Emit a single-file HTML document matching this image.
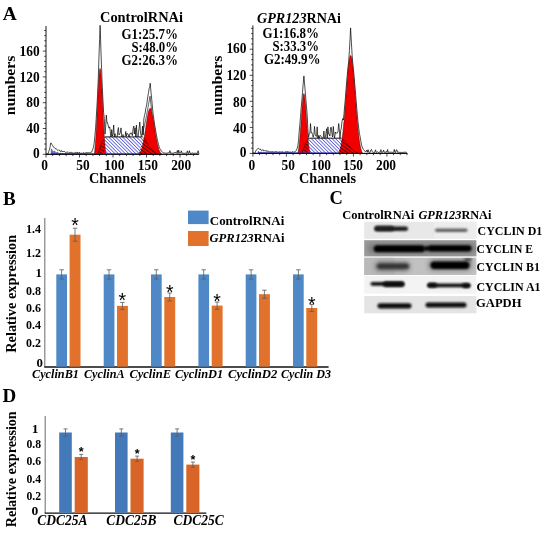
<!DOCTYPE html>
<html lang="en"><head><meta charset="utf-8"><title>Figure</title>
<style>
html,body{margin:0;padding:0;background:#fff;}
body{width:550px;height:534px;overflow:hidden;}
svg{display:block;font-family:'Liberation Serif', 'DejaVu Serif', serif;fill:#000;}
</style></head><body>
<svg width="550" height="534" viewBox="0 0 550 534">
<rect width="550" height="534" fill="#fff"/>
<defs>
<pattern id="h1" width="2.45" height="2.45" patternUnits="userSpaceOnUse" patternTransform="rotate(45)"><rect width="2.45" height="2.45" fill="#fff"/><rect width="2.45" height="0.85" fill="#5a5ce0"/></pattern>
<pattern id="h1k" width="2.9" height="2.9" patternUnits="userSpaceOnUse" patternTransform="rotate(36)"><rect width="2.9" height="0.75" fill="#300"/></pattern>
<pattern id="h2" width="2.45" height="2.45" patternUnits="userSpaceOnUse" patternTransform="rotate(45)"><rect width="2.45" height="2.45" fill="#fff"/><rect width="2.45" height="0.85" fill="#5a5ce0"/></pattern>
<pattern id="h2k" width="2.9" height="2.9" patternUnits="userSpaceOnUse" patternTransform="rotate(36)"><rect width="2.9" height="0.75" fill="#300"/></pattern>
<filter id="b1" x="-20%" y="-80%" width="140%" height="260%"><feGaussianBlur stdDeviation="1.1"/></filter>
<filter id="b2" x="-20%" y="-80%" width="140%" height="260%"><feGaussianBlur stdDeviation="1.6"/></filter>
<filter id="b3" x="-20%" y="-100%" width="140%" height="300%"><feGaussianBlur stdDeviation="2.4"/></filter>
</defs>
<text x="2.7" y="20.0" font-size="19.4" text-anchor="start" font-weight="bold" font-style="normal">A</text>
<polygon points="46.0,154.3 46.0,154.0 46.7,154.0 47.3,154.0 48.0,154.0 48.7,151.4 49.4,149.8 50.0,147.3 50.7,143.0 51.4,143.3 52.0,144.7 52.7,145.6 53.4,146.9 54.0,147.3 54.7,148.2 55.4,148.7 56.0,148.3 56.7,149.5 57.4,150.2 58.1,150.4 58.7,149.8 59.4,150.0 60.1,151.3 60.7,151.4 61.4,150.5 62.1,152.0 62.8,151.3 63.4,152.0 64.1,151.1 64.8,151.9 65.4,152.4 66.1,152.3 66.8,152.2 67.4,152.0 68.1,152.6 68.8,151.9 69.5,152.7 70.1,152.5 70.8,152.4 71.5,152.3 72.1,153.0 72.8,152.8 73.5,153.1 74.1,152.9 74.8,152.9 75.5,152.4 76.2,152.3 76.8,153.2 77.5,152.1 78.2,153.2 78.8,153.1 79.5,152.3 80.2,153.3 80.8,153.3 81.5,153.2 82.2,153.3 82.8,153.2 83.5,152.5 84.2,153.1 84.9,153.3 85.5,152.7 86.2,153.2 86.9,152.3 87.5,153.3 88.2,152.4 88.9,153.1 89.5,152.8 90.2,152.5 90.9,152.3 91.6,152.2 92.2,150.7 92.9,148.9 93.6,146.9 94.2,142.8 94.9,136.0 95.6,127.9 96.2,118.6 96.9,106.9 97.6,94.5 98.3,78.0 98.9,58.8 99.6,39.6 100.1,25.3 100.3,30.2 100.9,49.4 101.6,68.6 102.3,87.8 103.0,100.9 103.6,112.3 104.3,118.6 105.0,134.1 105.6,128.0 106.3,115.1 107.0,123.1 107.6,122.8 108.3,126.0 109.0,128.2 109.7,126.8 110.3,131.4 111.0,141.2 111.7,129.6 112.3,136.1 113.0,133.8 113.7,125.0 114.3,137.2 115.0,133.6 115.7,135.6 116.3,138.3 117.0,140.7 117.7,131.2 118.4,127.5 119.0,135.0 119.7,133.9 120.4,132.5 121.0,127.9 121.7,136.8 122.4,140.7 123.0,134.5 123.7,141.8 124.4,142.2 125.1,137.7 125.7,131.4 126.4,136.1 127.1,133.3 127.7,134.3 128.4,134.6 129.1,139.5 129.8,133.6 130.4,133.8 131.1,132.7 131.8,134.0 132.4,135.7 133.1,128.8 133.8,126.0 134.4,134.0 135.1,127.8 135.8,137.7 136.4,125.1 137.1,136.3 137.8,143.7 138.5,132.2 139.1,128.3 139.8,122.0 140.5,133.0 141.1,135.4 141.8,136.6 142.5,126.1 143.2,135.1 143.8,119.2 144.5,115.4 145.2,113.0 145.8,108.2 146.5,106.1 147.2,101.1 147.8,96.7 148.5,92.6 149.2,88.3 149.8,87.1 150.2,83.2 150.5,87.1 151.2,94.1 151.9,101.0 152.5,108.0 153.2,114.9 153.9,119.4 154.5,124.1 155.2,127.9 155.9,132.1 156.6,135.9 157.2,139.0 157.9,142.1 158.6,144.6 159.2,147.1 159.9,148.8 160.6,149.5 161.2,151.0 161.9,151.7 162.6,152.2 163.2,152.6 163.9,152.8 164.6,153.0 165.3,153.1 165.9,153.2 166.6,153.2 167.3,152.9 167.9,153.3 168.6,152.5 169.3,152.8 169.9,150.6 170.6,153.3 171.3,153.0 172.0,153.3 172.6,153.2 173.3,153.0 174.0,153.2 174.6,152.5 175.3,152.5 176.0,152.6 176.7,153.3 177.3,150.5 178.0,153.3 178.7,150.1 179.3,153.1 180.0,152.9 180.7,152.9 181.3,150.8 182.0,153.2 182.7,153.3 183.3,153.2 184.0,153.3 184.7,153.3 185.4,153.1 186.0,153.3 186.7,153.3 187.4,150.9 188.0,153.3 188.7,153.3 189.4,150.7 190.1,153.3 190.7,153.3 191.4,153.3 192.1,153.3 192.7,152.8 193.4,153.3 194.1,153.3 194.7,153.2 195.4,153.3 196.1,153.3 196.8,153.3 197.4,153.3 198.1,150.7 198.8,153.3 198.8,154.3" fill="#fff" stroke="#000" stroke-width="0.7" stroke-linejoin="round"/>
<polyline points="142.0,134.9 142.5,133.5 143.0,131.7 143.5,129.7 144.0,127.6 144.5,125.3 145.0,123.0 145.5,120.6 146.0,118.1 146.5,115.5 147.0,112.9 147.5,110.2 148.0,107.5 148.5,104.8 149.0,102.0 149.5,99.1 150.0,96.2 151.7,110.6" fill="none" stroke="#000" stroke-width="0.6"/>
<polygon points="102.4,154.3 103.8,148.2 104.6,142.1 104.6,136.9 142.0,136.9 143.0,138.1 141.8,144.7 138.8,154.3" fill="url(#h1)" stroke="none"/>
<polygon points="94.3,154.3 94.5,152.5 94.8,150.4 95.0,147.9 95.3,145.0 95.5,141.8 95.8,138.2 96.0,134.2 96.3,129.9 96.5,125.2 96.8,120.2 97.0,115.0 97.3,109.6 97.5,104.2 97.8,98.7 98.0,93.4 98.3,88.4 98.5,83.7 98.8,79.4 99.0,75.7 99.3,72.7 99.5,70.5 99.8,69.0 100.0,68.4 100.3,68.7 100.5,69.8 100.8,71.7 101.0,74.4 101.3,77.9 101.5,81.9 101.8,86.4 102.0,91.4 102.3,96.6 102.5,102.0 102.8,107.4 103.0,112.9 103.3,118.2 103.5,123.2 103.8,128.0 104.0,132.5 104.3,136.7 104.5,140.4 104.8,143.8 105.0,146.8 105.3,149.4 105.5,151.7 105.8,153.6" fill="#f20000" stroke="#2a0000" stroke-width="0.45"/>
<polygon points="138.2,154.3 138.4,154.1 138.7,153.9 138.9,153.7 139.2,153.5 139.4,153.2 139.7,152.9 139.9,152.5 140.2,152.1 140.4,151.7 140.7,151.2 140.9,150.6 141.2,150.0 141.4,149.3 141.7,148.6 141.9,147.8 142.2,146.9 142.4,146.0 142.7,145.0 142.9,143.9 143.2,142.8 143.4,141.6 143.7,140.3 143.9,138.9 144.2,137.5 144.4,136.1 144.7,134.5 144.9,133.0 145.2,131.4 145.4,129.7 145.7,128.1 145.9,126.4 146.2,124.8 146.4,123.2 146.7,121.5 146.9,120.0 147.2,118.4 147.4,117.0 147.7,115.6 147.9,114.3 148.2,113.1 148.4,112.0 148.7,111.1 148.9,110.2 149.2,109.6 149.4,109.0 149.7,108.6 149.9,108.4 150.2,108.3 150.4,108.4 150.7,108.6 150.9,109.0 151.2,109.6 151.4,110.2 151.7,111.1 151.9,112.0 152.2,113.1 152.4,114.3 152.7,115.6 152.9,117.0 153.2,118.4 153.4,120.0 153.7,121.5 153.9,123.2 154.2,124.8 154.4,126.4 154.7,128.1 154.9,129.7 155.2,131.4 155.4,133.0 155.7,134.5 155.9,136.1 156.2,137.5 156.4,138.9 156.7,140.3 156.9,141.6 157.2,142.8 157.4,143.9 157.7,145.0 157.9,146.0 158.2,146.9 158.4,147.8 158.7,148.6 158.9,149.3 159.2,150.0 159.4,150.6 159.7,151.2 159.9,151.7 160.2,152.1 160.4,152.5 160.7,152.9 160.9,153.2 161.2,153.5 161.4,153.7 161.7,153.9 161.9,154.1 162.2,154.3" fill="#f20000" stroke="#2a0000" stroke-width="0.45"/>
<clipPath id="h1c1"><polygon points="97.7,154.3 100.3,147.0 102.3,140.4 104.9,136.9 104.8,145.6 103.4,154.3"/></clipPath>
<rect x="97.1" y="134.9" width="16.4" height="19.4" fill="url(#h1k)" clip-path="url(#h1c1)"/>
<polyline points="97.7,154.3 100.3,147.0 102.3,140.4" fill="none" stroke="#2a0000" stroke-width="0.5"/>
<clipPath id="h1c2"><polygon points="138.3,154.3 141.5,144.7 142.7,137.8 144.5,138.6 148.0,144.7 152.8,150.8 157.1,154.3"/></clipPath>
<rect x="136.8" y="134.9" width="24.0" height="19.4" fill="url(#h1k)" clip-path="url(#h1c2)"/>
<polyline points="142.7,137.8 144.5,138.6 148.0,144.7 152.8,150.8 157.1,154.3" fill="none" stroke="#2a0000" stroke-width="0.5"/>
<line x1="104.6" y1="136.9" x2="142.5" y2="136.9" stroke="#000" stroke-width="0.9"/>
<polygon points="51.0,154.3 51.3,148.8 52.0,149.4 52.6,151.1 53.3,151.8 54.0,151.2 54.7,151.0 55.3,151.9 56.0,152.7 56.7,152.6 57.3,152.3 58.0,152.5 58.7,153.2 59.3,153.4 60.0,153.1 60.7,153.1 61.4,153.4 62.0,153.6 62.7,153.6 63.4,153.5 64.0,153.6 64.7,153.6 65.4,153.6 66.0,153.6 66.7,153.6 67.4,153.6 68.1,153.6 68.7,153.6 69.4,153.6 70.1,153.6 70.7,153.6 71.4,153.6 72.1,153.6 72.7,153.6 73.4,153.6 74.1,153.6 74.8,153.6 75.4,153.6 76.1,153.6 76.8,153.6 77.4,153.6 78.1,153.6 78.8,153.6 79.4,153.6 80.1,153.6 80.8,153.6 81.5,153.6 82.1,153.6 82.8,153.6 83.5,153.6 84.1,153.6 84.8,153.6 85.5,153.6 85.5,154.3" fill="#6466ee" stroke="#223" stroke-width="0.35"/>
<line x1="51.0" y1="153.8" x2="138.8" y2="153.8" stroke="#3838c8" stroke-width="0.9"/>
<path d="M46.0,26.0V154.3H199.0" fill="none" stroke="#000" stroke-width="0.9"/>
<path d="M42.8,154.3H46.0M44.2,149.1H46.0M44.2,144.0H46.0M44.2,138.8H46.0M44.2,133.7H46.0M42.8,128.5H46.0M44.2,123.3H46.0M44.2,118.2H46.0M44.2,113.0H46.0M44.2,107.9H46.0M42.8,102.7H46.0M44.2,97.5H46.0M44.2,92.4H46.0M44.2,87.2H46.0M44.2,82.1H46.0M42.8,76.9H46.0M44.2,71.7H46.0M44.2,66.6H46.0M44.2,61.4H46.0M44.2,56.3H46.0M42.8,51.1H46.0M44.2,45.9H46.0M44.2,40.8H46.0M44.2,35.6H46.0M44.2,30.5H46.0M46.0,154.3v3.2M52.7,154.3v1.8M59.4,154.3v1.8M66.1,154.3v1.8M72.8,154.3v1.8M79.5,154.3v3.2M86.2,154.3v1.8M92.9,154.3v1.8M99.6,154.3v1.8M106.3,154.3v1.8M113.0,154.3v3.2M119.7,154.3v1.8M126.4,154.3v1.8M133.1,154.3v1.8M139.8,154.3v1.8M146.5,154.3v3.2M153.2,154.3v1.8M159.9,154.3v1.8M166.6,154.3v1.8M173.3,154.3v1.8M180.0,154.3v3.2M186.7,154.3v1.8M193.4,154.3v1.8" fill="none" stroke="#000" stroke-width="0.7"/>
<text x="39.6" y="56.0" font-size="15.5" text-anchor="end" font-weight="bold" font-style="normal" textLength="20.1" lengthAdjust="spacingAndGlyphs">160</text>
<text x="39.6" y="81.7" font-size="15.5" text-anchor="end" font-weight="bold" font-style="normal" textLength="20.1" lengthAdjust="spacingAndGlyphs">120</text>
<text x="39.6" y="107.2" font-size="15.5" text-anchor="end" font-weight="bold" font-style="normal" textLength="13.4" lengthAdjust="spacingAndGlyphs">80</text>
<text x="39.6" y="132.9" font-size="15.5" text-anchor="end" font-weight="bold" font-style="normal" textLength="13.4" lengthAdjust="spacingAndGlyphs">40</text>
<text x="39.6" y="158.2" font-size="15.5" text-anchor="end" font-weight="bold" font-style="normal" textLength="6.7" lengthAdjust="spacingAndGlyphs">0</text>
<text x="44.7" y="169.9" font-size="15.5" text-anchor="middle" font-weight="bold" font-style="normal" textLength="6.7" lengthAdjust="spacingAndGlyphs">0</text>
<text x="83.0" y="169.9" font-size="15.5" text-anchor="middle" font-weight="bold" font-style="normal" textLength="13.4" lengthAdjust="spacingAndGlyphs">50</text>
<text x="114.4" y="169.9" font-size="15.5" text-anchor="middle" font-weight="bold" font-style="normal" textLength="20.1" lengthAdjust="spacingAndGlyphs">100</text>
<text x="147.8" y="169.9" font-size="15.5" text-anchor="middle" font-weight="bold" font-style="normal" textLength="20.1" lengthAdjust="spacingAndGlyphs">150</text>
<text x="181.2" y="169.9" font-size="15.5" text-anchor="middle" font-weight="bold" font-style="normal" textLength="20.1" lengthAdjust="spacingAndGlyphs">200</text>
<text x="89.0" y="182.5" font-size="14" text-anchor="start" font-weight="bold" font-style="normal" textLength="57.0" lengthAdjust="spacingAndGlyphs">Channels</text>
<text transform="translate(15.2,85.5) rotate(-90)" font-size="14.5" text-anchor="middle" font-weight="bold" textLength="59.5" lengthAdjust="spacingAndGlyphs">numbers</text>
<text x="100.0" y="22.0" font-size="14" text-anchor="start" font-weight="bold" font-style="normal" textLength="83.0" lengthAdjust="spacingAndGlyphs">ControlRNAi</text>
<text x="178.0" y="38.5" font-size="15.5" text-anchor="end" font-weight="bold" font-style="normal" textLength="56.5" lengthAdjust="spacingAndGlyphs">G1:25.7%</text>
<text x="178.0" y="51.8" font-size="15.5" text-anchor="end" font-weight="bold" font-style="normal" textLength="46.5" lengthAdjust="spacingAndGlyphs">S:48.0%</text>
<text x="178.0" y="64.9" font-size="15.5" text-anchor="end" font-weight="bold" font-style="normal" textLength="56.5" lengthAdjust="spacingAndGlyphs">G2:26.3%</text>
<polygon points="252.9,153.4 252.9,153.1 253.6,153.1 254.2,153.1 254.9,153.1 255.6,151.2 256.2,150.2 256.9,149.7 257.6,148.7 258.3,148.3 258.9,148.5 259.6,149.4 260.3,149.0 260.9,150.1 261.6,150.4 262.3,150.3 262.9,149.6 263.6,151.0 264.3,150.6 265.0,151.2 265.6,150.7 266.3,150.4 267.0,151.7 267.6,150.9 268.3,151.4 269.0,151.3 269.6,151.8 270.3,151.8 271.0,151.4 271.7,151.9 272.3,151.6 273.0,151.7 273.7,152.0 274.3,152.0 275.0,152.0 275.7,151.4 276.4,151.6 277.0,152.0 277.7,152.1 278.4,152.0 279.0,152.3 279.7,151.8 280.4,151.7 281.0,152.3 281.7,151.8 282.4,152.0 283.1,151.7 283.7,152.3 284.4,152.4 285.1,151.6 285.7,151.8 286.4,152.5 287.1,151.2 287.7,152.4 288.4,151.9 289.1,152.1 289.8,152.2 290.4,152.3 291.1,151.7 291.8,152.4 292.4,151.9 293.1,151.5 293.8,152.3 294.4,152.0 295.1,151.8 295.8,151.1 296.4,150.1 297.1,148.6 297.8,145.9 298.5,140.8 299.1,132.8 299.8,124.8 300.5,116.8 301.1,108.8 301.8,100.8 302.5,92.8 303.1,84.8 303.8,76.9 303.9,75.9 304.5,82.9 305.2,90.9 305.8,98.9 306.5,106.9 307.2,114.9 307.8,128.3 308.5,137.2 309.2,134.3 309.9,133.0 310.5,123.6 311.2,132.8 311.9,132.5 312.5,134.6 313.2,137.3 313.9,134.3 314.5,126.4 315.2,134.4 315.9,136.3 316.6,136.3 317.2,126.8 317.9,143.6 318.6,135.4 319.2,138.4 319.9,135.5 320.6,135.6 321.2,136.4 321.9,137.3 322.6,139.3 323.2,138.3 323.9,131.0 324.6,140.3 325.3,137.3 325.9,133.8 326.6,128.7 327.3,138.8 327.9,126.9 328.6,134.1 329.3,134.3 329.9,136.1 330.6,127.6 331.3,127.2 332.0,134.3 332.6,137.0 333.3,126.5 334.0,135.5 334.6,137.9 335.3,132.1 336.0,133.5 336.6,132.8 337.3,133.1 338.0,131.7 338.7,123.5 339.3,129.7 340.0,138.2 340.7,130.6 341.3,128.1 342.0,121.5 342.7,118.6 343.4,120.0 344.0,113.6 344.7,105.5 345.4,98.0 346.0,89.7 346.7,81.4 347.4,74.0 348.0,67.3 348.7,61.6 349.4,50.4 350.1,38.1 350.6,27.9 350.7,30.1 351.4,42.5 352.1,54.8 352.7,62.3 353.4,69.4 354.1,76.4 354.7,84.0 355.4,91.5 356.1,100.3 356.8,108.8 357.4,115.7 358.1,122.7 358.8,128.6 359.4,133.3 360.1,136.6 360.8,140.9 361.4,144.2 362.1,146.7 362.8,148.3 363.4,149.6 364.1,150.5 364.8,151.1 365.5,151.5 366.1,151.7 366.8,150.0 367.5,152.2 368.1,149.7 368.8,152.3 369.5,152.4 370.1,152.4 370.8,150.0 371.5,149.4 372.2,151.6 372.8,152.2 373.5,152.4 374.2,152.4 374.8,152.4 375.5,149.8 376.2,152.4 376.9,152.2 377.5,151.7 378.2,152.4 378.9,152.4 379.5,152.2 380.2,152.4 380.9,149.6 381.5,152.4 382.2,152.2 382.9,152.2 383.6,150.1 384.2,152.2 384.9,152.3 385.6,152.4 386.2,151.4 386.9,152.4 387.6,149.5 388.2,152.4 388.9,152.0 389.6,152.2 390.2,152.1 390.9,152.4 391.6,152.2 392.3,152.4 392.9,152.3 393.6,152.4 394.3,149.4 394.9,152.4 395.6,152.4 396.3,149.8 396.9,150.0 397.6,152.4 398.3,152.1 399.0,152.4 399.6,152.4 400.3,152.4 401.0,152.4 401.6,152.4 402.3,152.4 403.0,152.3 403.6,152.4 404.3,152.2 405.0,152.1 405.7,152.2 406.3,152.4 406.3,153.4" fill="#fff" stroke="#000" stroke-width="0.7" stroke-linejoin="round"/>
<polygon points="305.8,153.4 307.2,148.1 308.0,142.8 308.0,138.2 341.0,138.2 342.0,139.4 340.8,145.0 338.8,153.4" fill="url(#h2)" stroke="none"/>
<polygon points="297.7,153.4 297.9,152.5 298.2,151.4 298.4,150.0 298.7,148.5 298.9,146.7 299.2,144.7 299.4,142.4 299.7,139.9 299.9,137.1 300.2,134.0 300.4,130.8 300.7,127.3 300.9,123.7 301.2,120.1 301.4,116.4 301.7,112.7 301.9,109.2 302.2,105.8 302.4,102.7 302.7,100.0 302.9,97.7 303.2,95.9 303.4,94.5 303.7,93.8 303.9,93.6 304.2,94.0 304.4,95.0 304.7,96.5 304.9,98.6 305.2,101.1 305.4,103.9 305.7,107.1 305.9,110.6 306.2,114.2 306.4,117.8 306.7,121.5 306.9,125.2 307.2,128.7 307.4,132.1 307.7,135.3 307.9,138.2 308.2,140.9 308.4,143.4 308.7,145.5 308.9,147.5 309.2,149.1 309.4,150.6 309.7,151.8 309.9,152.9" fill="#f20000" stroke="#2a0000" stroke-width="0.45"/>
<polygon points="338.7,153.4 339.0,152.9 339.2,152.3 339.5,151.6 339.7,150.8 340.0,150.0 340.2,149.1 340.5,148.1 340.7,147.0 341.0,145.7 341.2,144.4 341.5,142.9 341.7,141.3 342.0,139.6 342.2,137.8 342.5,135.8 342.7,133.7 343.0,131.5 343.2,129.1 343.5,126.6 343.7,124.0 344.0,121.3 344.2,118.4 344.5,115.4 344.7,112.4 345.0,109.2 345.2,106.0 345.5,102.7 345.7,99.4 346.0,96.0 346.2,92.7 346.5,89.4 346.7,86.1 347.0,82.8 347.2,79.7 347.5,76.6 347.7,73.7 348.0,70.9 348.2,68.3 348.5,65.9 348.7,63.7 349.0,61.7 349.2,60.0 349.5,58.5 349.7,57.3 350.0,56.4 350.2,55.8 350.5,55.5 350.7,55.4 351.0,55.7 351.2,56.3 351.5,57.1 351.7,58.3 352.0,59.7 352.2,61.4 352.5,63.3 352.7,65.5 353.0,67.8 353.2,70.4 353.5,73.1 353.7,76.0 354.0,79.1 354.2,82.2 354.5,85.4 354.7,88.7 355.0,92.0 355.2,95.4 355.5,98.7 355.7,102.0 356.0,105.3 356.2,108.6 356.5,111.7 356.7,114.8 357.0,117.8 357.2,120.7 357.5,123.5 357.7,126.1 358.0,128.6 358.2,131.0 358.5,133.3 358.7,135.4 359.0,137.4 359.2,139.3 359.5,141.0 359.7,142.6 360.0,144.1 360.2,145.5 360.5,146.7 360.7,147.9 361.0,148.9 361.2,149.8 361.5,150.7 361.7,151.5 362.0,152.1 362.2,152.8 362.5,153.3" fill="#f20000" stroke="#2a0000" stroke-width="0.45"/>
<clipPath id="h2c1"><polygon points="301.5,153.4 304.1,147.0 306.1,141.2 308.3,138.2 308.2,145.8 306.8,153.4"/></clipPath>
<rect x="300.9" y="136.2" width="16.4" height="17.2" fill="url(#h2k)" clip-path="url(#h2c1)"/>
<polyline points="301.5,153.4 304.1,147.0 306.1,141.2" fill="none" stroke="#2a0000" stroke-width="0.5"/>
<clipPath id="h2c2"><polygon points="338.3,153.4 340.5,145.0 341.7,139.0 343.5,139.7 348.3,145.0 353.4,150.4 358.0,153.4"/></clipPath>
<rect x="336.8" y="136.2" width="25.0" height="17.2" fill="url(#h2k)" clip-path="url(#h2c2)"/>
<polyline points="341.7,139.0 343.5,139.7 348.3,145.0 353.4,150.4 358.0,153.4" fill="none" stroke="#2a0000" stroke-width="0.5"/>
<line x1="308.0" y1="138.2" x2="341.5" y2="138.2" stroke="#000" stroke-width="0.9"/>
<polygon points="257.9,153.4 258.2,151.2 258.9,151.8 259.5,152.3 260.2,152.2 260.9,152.0 261.6,152.2 262.2,152.7 262.9,152.7 263.6,152.6 264.2,152.6 264.9,152.7 265.6,152.7 266.2,152.7 266.9,152.7 267.6,152.7 268.3,152.7 268.9,152.7 269.6,152.7 270.3,152.7 270.9,152.7 271.6,152.7 272.3,152.7 272.9,152.7 273.6,152.7 274.3,152.7 275.0,152.7 275.6,152.7 276.3,152.7 277.0,152.7 277.6,152.7 278.3,152.7 279.0,152.7 279.6,152.7 280.3,152.7 281.0,152.7 281.7,152.7 282.3,152.7 283.0,152.7 283.7,152.7 284.3,152.7 285.0,152.7 285.7,152.7 286.3,152.7 287.0,152.7 287.7,152.7 288.4,152.7 289.0,152.7 289.7,152.7 290.4,152.7 291.0,152.7 291.7,152.7 292.4,152.7 292.4,153.4" fill="#6466ee" stroke="#223" stroke-width="0.35"/>
<line x1="257.9" y1="152.9" x2="338.8" y2="152.9" stroke="#3838c8" stroke-width="0.9"/>
<path d="M252.9,25.5V153.4H407.5" fill="none" stroke="#000" stroke-width="0.9"/>
<path d="M249.7,153.4H252.9M251.1,148.2H252.9M251.1,143.0H252.9M251.1,137.8H252.9M251.1,132.6H252.9M249.7,127.4H252.9M251.1,122.2H252.9M251.1,116.9H252.9M251.1,111.7H252.9M251.1,106.5H252.9M249.7,101.3H252.9M251.1,96.1H252.9M251.1,90.9H252.9M251.1,85.7H252.9M251.1,80.5H252.9M249.7,75.3H252.9M251.1,70.1H252.9M251.1,64.9H252.9M251.1,59.7H252.9M251.1,54.4H252.9M249.7,49.2H252.9M251.1,44.0H252.9M251.1,38.8H252.9M251.1,33.6H252.9M251.1,28.4H252.9M252.9,153.4v3.2M259.6,153.4v1.8M266.3,153.4v1.8M273.0,153.4v1.8M279.7,153.4v1.8M286.4,153.4v3.2M293.1,153.4v1.8M299.8,153.4v1.8M306.5,153.4v1.8M313.2,153.4v1.8M319.9,153.4v3.2M326.6,153.4v1.8M333.3,153.4v1.8M340.0,153.4v1.8M346.7,153.4v1.8M353.4,153.4v3.2M360.1,153.4v1.8M366.8,153.4v1.8M373.5,153.4v1.8M380.2,153.4v1.8M386.9,153.4v3.2M393.6,153.4v1.8M400.3,153.4v1.8M407.0,153.4v1.8" fill="none" stroke="#000" stroke-width="0.7"/>
<text x="246.5" y="53.3" font-size="15.5" text-anchor="end" font-weight="bold" font-style="normal" textLength="20.1" lengthAdjust="spacingAndGlyphs">160</text>
<text x="246.5" y="80.0" font-size="15.5" text-anchor="end" font-weight="bold" font-style="normal" textLength="20.1" lengthAdjust="spacingAndGlyphs">120</text>
<text x="246.5" y="106.5" font-size="15.5" text-anchor="end" font-weight="bold" font-style="normal" textLength="13.4" lengthAdjust="spacingAndGlyphs">80</text>
<text x="246.5" y="132.7" font-size="15.5" text-anchor="end" font-weight="bold" font-style="normal" textLength="13.4" lengthAdjust="spacingAndGlyphs">40</text>
<text x="246.5" y="157.3" font-size="15.5" text-anchor="end" font-weight="bold" font-style="normal" textLength="6.7" lengthAdjust="spacingAndGlyphs">0</text>
<text x="251.8" y="169.9" font-size="15.5" text-anchor="middle" font-weight="bold" font-style="normal" textLength="6.7" lengthAdjust="spacingAndGlyphs">0</text>
<text x="288.3" y="169.9" font-size="15.5" text-anchor="middle" font-weight="bold" font-style="normal" textLength="13.4" lengthAdjust="spacingAndGlyphs">50</text>
<text x="321.0" y="169.9" font-size="15.5" text-anchor="middle" font-weight="bold" font-style="normal" textLength="20.1" lengthAdjust="spacingAndGlyphs">100</text>
<text x="353.0" y="169.9" font-size="15.5" text-anchor="middle" font-weight="bold" font-style="normal" textLength="20.1" lengthAdjust="spacingAndGlyphs">150</text>
<text x="386.0" y="169.9" font-size="15.5" text-anchor="middle" font-weight="bold" font-style="normal" textLength="20.1" lengthAdjust="spacingAndGlyphs">200</text>
<text x="299.0" y="182.5" font-size="14" text-anchor="start" font-weight="bold" font-style="normal" textLength="57.0" lengthAdjust="spacingAndGlyphs">Channels</text>
<text transform="translate(222,85.5) rotate(-90)" font-size="14.5" text-anchor="middle" font-weight="bold" textLength="59.5" lengthAdjust="spacingAndGlyphs">numbers</text>
<text x="257" y="22.6" font-size="14" font-weight="bold" textLength="84" lengthAdjust="spacingAndGlyphs"><tspan font-style="italic">GPR123</tspan>RNAi</text>
<text x="262.5" y="38.0" font-size="15.5" text-anchor="start" font-weight="bold" font-style="normal" textLength="56.5" lengthAdjust="spacingAndGlyphs">G1:16.8%</text>
<text x="272.5" y="51.2" font-size="15.5" text-anchor="start" font-weight="bold" font-style="normal" textLength="46.5" lengthAdjust="spacingAndGlyphs">S:33.3%</text>
<text x="264.0" y="64.3" font-size="15.5" text-anchor="start" font-weight="bold" font-style="normal" textLength="56.5" lengthAdjust="spacingAndGlyphs">G2:49.9%</text>
<text x="3.0" y="205.0" font-size="19" text-anchor="start" font-weight="bold" font-style="normal">B</text>
<path d="M44.8,218V367" fill="none" stroke="#777" stroke-width="1.1"/>
<path d="M44.3,367H328.6" fill="none" stroke="#111" stroke-width="1.3"/>
<rect x="56.3" y="274.4" width="10.7" height="92.2" fill="#4f88c7"/>
<path d="M61.6,269.8V279.0M59.4,269.8h4.6M59.4,279.0h4.6" stroke="#5a5a5a" stroke-width="0.8" fill="none"/>
<rect x="69.6" y="234.7" width="10.9" height="131.9" fill="#e2712b"/>
<path d="M75.0,228.2V241.2M72.8,228.2h4.6M72.8,241.2h4.6" stroke="#5a5a5a" stroke-width="0.8" fill="none"/>
<text x="75.0" y="231.6" font-size="19.5" text-anchor="middle" font-family="'Liberation Sans', 'DejaVu Sans', sans-serif" font-weight="normal">*</text>
<rect x="103.7" y="274.4" width="10.7" height="92.2" fill="#4f88c7"/>
<path d="M109.0,269.8V279.0M106.7,269.8h4.6M106.7,279.0h4.6" stroke="#5a5a5a" stroke-width="0.8" fill="none"/>
<rect x="117.0" y="305.9" width="10.9" height="60.7" fill="#e2712b"/>
<path d="M122.4,302.4V309.4M120.1,302.4h4.6M120.1,309.4h4.6" stroke="#5a5a5a" stroke-width="0.8" fill="none"/>
<text x="122.4" y="306.7" font-size="19.5" text-anchor="middle" font-family="'Liberation Sans', 'DejaVu Sans', sans-serif" font-weight="normal">*</text>
<rect x="151.0" y="274.4" width="10.7" height="92.2" fill="#4f88c7"/>
<path d="M156.3,269.8V279.0M154.0,269.8h4.6M154.0,279.0h4.6" stroke="#5a5a5a" stroke-width="0.8" fill="none"/>
<rect x="164.3" y="297.0" width="10.9" height="69.6" fill="#e2712b"/>
<path d="M169.7,293.0V301.0M167.4,293.0h4.6M167.4,301.0h4.6" stroke="#5a5a5a" stroke-width="0.8" fill="none"/>
<text x="169.7" y="299.3" font-size="19.5" text-anchor="middle" font-family="'Liberation Sans', 'DejaVu Sans', sans-serif" font-weight="normal">*</text>
<rect x="198.4" y="274.4" width="10.7" height="92.2" fill="#4f88c7"/>
<path d="M203.7,269.8V279.0M201.4,269.8h4.6M201.4,279.0h4.6" stroke="#5a5a5a" stroke-width="0.8" fill="none"/>
<rect x="211.7" y="305.6" width="10.9" height="61.0" fill="#e2712b"/>
<path d="M217.1,302.0V309.2M214.8,302.0h4.6M214.8,309.2h4.6" stroke="#5a5a5a" stroke-width="0.8" fill="none"/>
<text x="217.1" y="307.8" font-size="19.5" text-anchor="middle" font-family="'Liberation Sans', 'DejaVu Sans', sans-serif" font-weight="normal">*</text>
<rect x="245.7" y="274.4" width="10.7" height="92.2" fill="#4f88c7"/>
<path d="M251.1,269.8V279.0M248.8,269.8h4.6M248.8,279.0h4.6" stroke="#5a5a5a" stroke-width="0.8" fill="none"/>
<rect x="259.0" y="294.2" width="10.9" height="72.4" fill="#e2712b"/>
<path d="M264.4,290.2V298.2M262.1,290.2h4.6M262.1,298.2h4.6" stroke="#5a5a5a" stroke-width="0.8" fill="none"/>
<rect x="293.0" y="274.4" width="10.7" height="92.2" fill="#4f88c7"/>
<path d="M298.4,269.8V279.0M296.1,269.8h4.6M296.1,279.0h4.6" stroke="#5a5a5a" stroke-width="0.8" fill="none"/>
<rect x="306.3" y="308.0" width="10.9" height="58.6" fill="#e2712b"/>
<path d="M311.8,304.5V311.5M309.5,304.5h4.6M309.5,311.5h4.6" stroke="#5a5a5a" stroke-width="0.8" fill="none"/>
<text x="311.8" y="310.5" font-size="19.5" text-anchor="middle" font-family="'Liberation Sans', 'DejaVu Sans', sans-serif" font-weight="normal">*</text>
<text x="41.0" y="232.8" font-size="12.8" text-anchor="end" font-weight="bold" font-style="normal" textLength="15.0" lengthAdjust="spacingAndGlyphs">1.4</text>
<text x="41.0" y="257.1" font-size="12.8" text-anchor="end" font-weight="bold" font-style="normal" textLength="15.0" lengthAdjust="spacingAndGlyphs">1.2</text>
<text x="42.0" y="277.3" font-size="12.8" text-anchor="end" font-weight="bold" font-style="normal">1</text>
<text x="41.0" y="294.5" font-size="12.8" text-anchor="end" font-weight="bold" font-style="normal" textLength="15.0" lengthAdjust="spacingAndGlyphs">0.8</text>
<text x="41.0" y="312.0" font-size="12.8" text-anchor="end" font-weight="bold" font-style="normal" textLength="15.0" lengthAdjust="spacingAndGlyphs">0.6</text>
<text x="41.0" y="328.9" font-size="12.8" text-anchor="end" font-weight="bold" font-style="normal" textLength="15.0" lengthAdjust="spacingAndGlyphs">0.4</text>
<text x="41.0" y="346.7" font-size="12.8" text-anchor="end" font-weight="bold" font-style="normal" textLength="15.0" lengthAdjust="spacingAndGlyphs">0.2</text>
<text x="43.0" y="366.8" font-size="12.8" text-anchor="end" font-weight="bold" font-style="normal">0</text>
<text transform="translate(15.8,293.8) rotate(-90)" font-size="15" text-anchor="middle" font-weight="bold" textLength="118" lengthAdjust="spacingAndGlyphs">Relative expression</text>
<text x="32.0" y="378.0" font-size="12" text-anchor="start" font-weight="bold" font-style="italic" textLength="47.0" lengthAdjust="spacingAndGlyphs">CyclinB1</text>
<text x="84.0" y="378.0" font-size="12" text-anchor="start" font-weight="bold" font-style="italic" textLength="40.6" lengthAdjust="spacingAndGlyphs">CyclinA</text>
<text x="129.4" y="378.0" font-size="12" text-anchor="start" font-weight="bold" font-style="italic" textLength="41.6" lengthAdjust="spacingAndGlyphs">CyclinE</text>
<text x="175.0" y="378.0" font-size="12" text-anchor="start" font-weight="bold" font-style="italic" textLength="48.2" lengthAdjust="spacingAndGlyphs">CyclinD1</text>
<text x="228.0" y="378.0" font-size="12" text-anchor="start" font-weight="bold" font-style="italic" textLength="49.4" lengthAdjust="spacingAndGlyphs">CyclinD2</text>
<text x="281.0" y="378.0" font-size="12" text-anchor="start" font-weight="bold" font-style="italic" textLength="50.0" lengthAdjust="spacingAndGlyphs">Cyclin D3</text>
<rect x="188" y="210.6" width="20.6" height="13.5" fill="#4f88c7"/>
<rect x="188" y="231" width="20.6" height="15" fill="#e2712b"/>
<text x="209.8" y="225.4" font-size="12.5" text-anchor="start" font-weight="bold" font-style="normal" textLength="74.5" lengthAdjust="spacingAndGlyphs">ControlRNAi</text>
<text x="209.5" y="242.2" font-size="12.5" font-weight="bold" textLength="75" lengthAdjust="spacingAndGlyphs"><tspan font-style="italic">GPR123</tspan>RNAi</text>
<text x="329.6" y="204.2" font-size="18.5" text-anchor="start" font-weight="bold" font-style="normal">C</text>
<text x="342.2" y="218.7" font-size="12.5" text-anchor="start" font-weight="bold" font-style="normal" textLength="72.0" lengthAdjust="spacingAndGlyphs">ControlRNAi</text>
<text x="418.4" y="218.7" font-size="12.5" font-weight="bold" textLength="73" lengthAdjust="spacingAndGlyphs"><tspan font-style="italic">GPR123</tspan>RNAi</text>
<clipPath id="cs0"><rect x="364.2" y="221.8" width="112.2" height="17.0"/></clipPath>
<rect x="364.2" y="221.8" width="112.2" height="17.0" fill="#e8e8e8"/>
<clipPath id="cs1"><rect x="364.2" y="240.2" width="112.2" height="16.2"/></clipPath>
<rect x="364.2" y="240.2" width="112.2" height="16.2" fill="#9b9b9b"/>
<clipPath id="cs2"><rect x="364.2" y="257.7" width="112.2" height="17.3"/></clipPath>
<rect x="364.2" y="257.7" width="112.2" height="17.3" fill="#c1c1c1"/>
<clipPath id="cs3"><rect x="364.2" y="276" width="112.2" height="17.6"/></clipPath>
<rect x="364.2" y="276" width="112.2" height="17.6" fill="#f3f3f3"/>
<clipPath id="cs4"><rect x="364.2" y="296" width="112.2" height="17.3"/></clipPath>
<rect x="364.2" y="296" width="112.2" height="17.3" fill="#e4e4e4"/>
<rect x="434.2" y="221.8" width="42.2" height="17" fill="#efefef" opacity="0.7"/>
<rect clip-path="url(#cs0)" x="374.5" y="226.5" width="33.5" height="4.6" rx="2.3" fill="#1a1a1a" filter="url(#b1)" opacity="1"/>
<rect clip-path="url(#cs0)" x="374.5" y="225.8" width="19.5" height="5.4" rx="2.7" fill="#1a1a1a" filter="url(#b1)" opacity="0.8"/>
<rect clip-path="url(#cs0)" x="435.0" y="228.5" width="32.5" height="3.4" rx="1.7" fill="#4a4a4a" filter="url(#b1)" opacity="0.85"/>
<rect clip-path="url(#cs1)" x="368.0" y="243.4" width="108.0" height="10.0" rx="5.0" fill="#555" filter="url(#b3)" opacity="0.45"/>
<rect clip-path="url(#cs1)" x="373.7" y="245.2" width="51.3" height="7.0" rx="3.5" fill="#000" filter="url(#b1)" opacity="1"/>
<rect clip-path="url(#cs1)" x="424.0" y="246.2" width="5.0" height="4.5" rx="2.2" fill="#000" filter="url(#b1)" opacity="1"/>
<rect clip-path="url(#cs1)" x="427.5" y="245.2" width="44.0" height="6.2" rx="3.1" fill="#000" filter="url(#b1)" opacity="1"/>
<rect x="364.2" y="257.7" width="30" height="17.3" fill="#b4b4b4" opacity="0.6"/>
<rect clip-path="url(#cs2)" x="375.0" y="261.9" width="35.0" height="9.0" rx="4.5" fill="#444" filter="url(#b3)" opacity="0.55"/>
<rect clip-path="url(#cs2)" x="377.0" y="263.6" width="32.0" height="5.5" rx="2.8" fill="#2a2a2a" filter="url(#b2)" opacity="0.9"/>
<rect clip-path="url(#cs2)" x="428.0" y="259.5" width="44.0" height="11.0" rx="5.5" fill="#444" filter="url(#b3)" opacity="0.5"/>
<rect clip-path="url(#cs2)" x="430.5" y="261.5" width="39.0" height="7.4" rx="3.7" fill="#000" filter="url(#b1)" opacity="1"/>
<rect clip-path="url(#cs2)" x="464.0" y="258.0" width="8.0" height="3.0" rx="1.5" fill="#222" filter="url(#b2)" opacity="0.8"/>
<rect clip-path="url(#cs3)" x="370.5" y="281.9" width="33.5" height="3.8" rx="1.9" fill="#111" filter="url(#b1)" opacity="1"/>
<rect clip-path="url(#cs3)" x="383.0" y="281.6" width="21.5" height="5.4" rx="2.7" fill="#0c0c0c" filter="url(#b1)" opacity="1"/>
<rect clip-path="url(#cs3)" x="427.5" y="283.4" width="42.5" height="3.9" rx="1.9" fill="#111" filter="url(#b1)" opacity="1"/>
<rect clip-path="url(#cs3)" x="427.5" y="282.7" width="9.5" height="4.9" rx="2.5" fill="#111" filter="url(#b1)" opacity="1"/>
<rect clip-path="url(#cs3)" x="462.0" y="283.2" width="8.5" height="4.7" rx="2.4" fill="#111" filter="url(#b1)" opacity="1"/>
<rect clip-path="url(#cs4)" x="377.5" y="303.2" width="34.0" height="5.2" rx="2.6" fill="#0c0c0c" filter="url(#b1)" opacity="1"/>
<rect clip-path="url(#cs4)" x="425.5" y="302.5" width="41.0" height="5.0" rx="2.5" fill="#0c0c0c" filter="url(#b1)" opacity="1"/>
<text x="477.5" y="234.8" font-size="12.3" text-anchor="start" font-weight="bold" font-style="normal" textLength="64.8" lengthAdjust="spacingAndGlyphs">CYCLIN D1</text>
<text x="476.5" y="252.6" font-size="12.3" text-anchor="start" font-weight="bold" font-style="normal" textLength="56.4" lengthAdjust="spacingAndGlyphs">CYCLIN E</text>
<text x="476.5" y="271.3" font-size="12.3" text-anchor="start" font-weight="bold" font-style="normal" textLength="63.3" lengthAdjust="spacingAndGlyphs">CYCLIN B1</text>
<text x="476.5" y="291.2" font-size="12.3" text-anchor="start" font-weight="bold" font-style="normal" textLength="64.0" lengthAdjust="spacingAndGlyphs">CYCLIN A1</text>
<text x="476.0" y="307.3" font-size="12.3" text-anchor="start" font-weight="bold" font-style="normal" textLength="45.5" lengthAdjust="spacingAndGlyphs">GAPDH</text>
<text x="2.5" y="401.5" font-size="19" text-anchor="start" font-weight="bold" font-style="normal">D</text>
<path d="M45.2,416V513.2" fill="none" stroke="#777" stroke-width="1.1"/>
<path d="M44.7,513.2H206.3" fill="none" stroke="#111" stroke-width="1.3"/>
<rect x="59.2" y="432.5" width="12.6" height="80.3" fill="#4379b9"/>
<path d="M65.5,428.9V436.1M63.5,428.9h4M63.5,436.1h4" stroke="#5a5a5a" stroke-width="0.8" fill="none"/>
<rect x="74.7" y="457.0" width="13.1" height="55.8" fill="#d86428"/>
<path d="M81.2,454.4V459.6M79.2,454.4h4M79.2,459.6h4" stroke="#5a5a5a" stroke-width="0.8" fill="none"/>
<text x="81.2" y="456.2" font-size="12.5" text-anchor="middle" font-family="'Liberation Sans', 'DejaVu Sans', sans-serif" font-weight="bold">*</text>
<rect x="115.0" y="432.5" width="12.6" height="80.3" fill="#4379b9"/>
<path d="M121.3,428.9V436.1M119.3,428.9h4M119.3,436.1h4" stroke="#5a5a5a" stroke-width="0.8" fill="none"/>
<rect x="130.5" y="458.7" width="13.1" height="54.1" fill="#d86428"/>
<path d="M137.1,456.1V461.3M135.1,456.1h4M135.1,461.3h4" stroke="#5a5a5a" stroke-width="0.8" fill="none"/>
<text x="137.1" y="457.9" font-size="12.5" text-anchor="middle" font-family="'Liberation Sans', 'DejaVu Sans', sans-serif" font-weight="bold">*</text>
<rect x="170.8" y="432.5" width="12.6" height="80.3" fill="#4379b9"/>
<path d="M177.1,428.9V436.1M175.1,428.9h4M175.1,436.1h4" stroke="#5a5a5a" stroke-width="0.8" fill="none"/>
<rect x="186.3" y="464.6" width="13.1" height="48.2" fill="#d86428"/>
<path d="M192.9,462.0V467.2M190.9,462.0h4M190.9,467.2h4" stroke="#5a5a5a" stroke-width="0.8" fill="none"/>
<text x="192.9" y="463.9" font-size="12.5" text-anchor="middle" font-family="'Liberation Sans', 'DejaVu Sans', sans-serif" font-weight="bold">*</text>
<text x="38.6" y="433.0" font-size="13.5" text-anchor="end" font-weight="bold" font-style="normal">1</text>
<text x="41.0" y="448.4" font-size="13.5" text-anchor="end" font-weight="bold" font-style="normal" textLength="14.6" lengthAdjust="spacingAndGlyphs">0.8</text>
<text x="41.0" y="465.4" font-size="13.5" text-anchor="end" font-weight="bold" font-style="normal" textLength="14.6" lengthAdjust="spacingAndGlyphs">0.6</text>
<text x="41.0" y="482.8" font-size="13.5" text-anchor="end" font-weight="bold" font-style="normal" textLength="14.6" lengthAdjust="spacingAndGlyphs">0.4</text>
<text x="41.0" y="499.8" font-size="13.5" text-anchor="end" font-weight="bold" font-style="normal" textLength="14.6" lengthAdjust="spacingAndGlyphs">0.2</text>
<text x="38.3" y="514.8" font-size="13.5" text-anchor="end" font-weight="bold" font-style="normal">0</text>
<text transform="translate(16.4,469.3) rotate(-90)" font-size="15" text-anchor="middle" font-weight="bold" textLength="116" lengthAdjust="spacingAndGlyphs">Relative expression</text>
<text x="37.2" y="524.8" font-size="15" text-anchor="start" font-weight="bold" font-style="italic" textLength="50.2" lengthAdjust="spacingAndGlyphs">CDC25A</text>
<text x="106.3" y="524.8" font-size="15" text-anchor="start" font-weight="bold" font-style="italic" textLength="50.1" lengthAdjust="spacingAndGlyphs">CDC25B</text>
<text x="173.6" y="524.8" font-size="15" text-anchor="start" font-weight="bold" font-style="italic" textLength="50.1" lengthAdjust="spacingAndGlyphs">CDC25C</text>
</svg>
</body></html>
